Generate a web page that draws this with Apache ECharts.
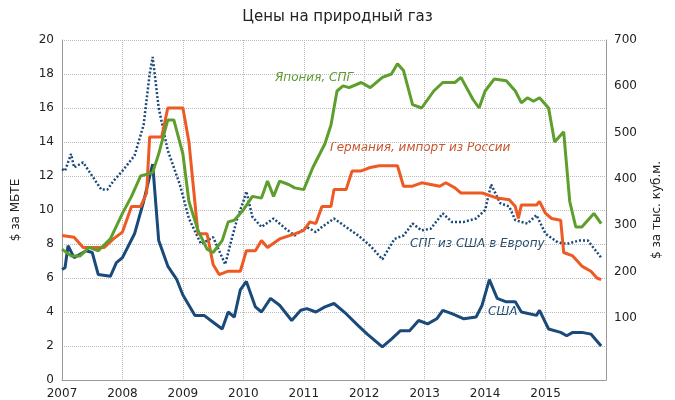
<!DOCTYPE html>
<html>
<head>
<meta charset="utf-8">
<script src="https://cdn.jsdelivr.net/npm/echarts@6/dist/echarts.min.js"></script>
<style>html,body{margin:0;padding:0;background:#fff}#chart{width:675px;height:400px}</style>
</head>
<body>
<div id="chart"></div>
<script>
// $ per MMBtu, x = decimal year
var usX = [2007.0,2007.05,2007.1,2007.2,2007.4,2007.5,2007.6,2007.8,2007.9,2008.0,2008.2,2008.35,2008.5,2008.6,2008.75,2008.9,2009.0,2009.2,2009.35,2009.5,2009.65,2009.75,2009.85,2009.95,2010.05,2010.2,2010.3,2010.45,2010.6,2010.8,2010.95,2011.05,2011.2,2011.35,2011.5,2011.7,2011.9,2012.05,2012.3,2012.45,2012.6,2012.75,2012.9,2013.05,2013.2,2013.3,2013.45,2013.65,2013.85,2013.95,2014.07,2014.2,2014.35,2014.5,2014.6,2014.85,2014.9,2015.05,2015.25,2015.35,2015.45,2015.6,2015.75,2015.92];
var usY = [6.5,6.6,7.9,7.2,7.6,7.5,6.2,6.1,6.9,7.2,8.6,10.5,12.7,8.2,6.7,5.9,5.0,3.8,3.8,3.4,3.0,4.0,3.7,5.3,5.8,4.3,4.0,4.8,4.4,3.5,4.1,4.2,4.0,4.3,4.5,3.9,3.2,2.7,1.95,2.4,2.9,2.9,3.5,3.3,3.6,4.1,3.9,3.6,3.7,4.4,5.9,4.8,4.6,4.6,4.0,3.8,4.1,3.0,2.8,2.6,2.8,2.8,2.7,2.0];

var jpX = [2007.0,2007.15,2007.3,2007.45,2007.6,2007.8,2008.0,2008.15,2008.3,2008.5,2008.6,2008.75,2008.85,2009.0,2009.1,2009.25,2009.4,2009.5,2009.65,2009.75,2009.85,2010.0,2010.15,2010.3,2010.4,2010.5,2010.6,2010.75,2010.85,2011.0,2011.15,2011.35,2011.45,2011.55,2011.65,2011.75,2011.95,2012.1,2012.3,2012.45,2012.55,2012.65,2012.8,2012.95,2013.15,2013.3,2013.5,2013.6,2013.8,2013.9,2014.0,2014.15,2014.35,2014.5,2014.6,2014.7,2014.8,2014.9,2015.05,2015.15,2015.3,2015.4,2015.5,2015.6,2015.8,2015.92];
var jpY = [7.7,7.3,7.3,7.8,7.6,8.3,9.8,10.8,12.0,12.2,13.3,15.3,15.3,13.3,10.5,8.8,7.7,7.5,8.2,9.3,9.4,10.0,10.8,10.7,11.7,10.8,11.7,11.5,11.3,11.2,12.5,13.9,15.0,17.0,17.3,17.2,17.5,17.2,17.8,18.0,18.6,18.2,16.2,16.0,17.0,17.5,17.5,17.8,16.5,16.0,17.0,17.7,17.6,17.0,16.3,16.6,16.4,16.6,16.0,14.0,14.6,10.5,9.0,9.0,9.8,9.2];

var deX = [2007.0,2007.2,2007.35,2007.7,2007.85,2008.0,2008.15,2008.3,2008.4,2008.45,2008.65,2008.75,2009.0,2009.1,2009.25,2009.4,2009.5,2009.6,2009.75,2009.95,2010.05,2010.2,2010.3,2010.4,2010.6,2010.85,2011.0,2011.1,2011.2,2011.3,2011.45,2011.5,2011.7,2011.8,2011.95,2012.1,2012.25,2012.55,2012.65,2012.8,2012.95,2013.1,2013.25,2013.35,2013.5,2013.6,2013.95,2014.2,2014.4,2014.5,2014.55,2014.6,2014.85,2014.9,2015.0,2015.1,2015.25,2015.3,2015.45,2015.6,2015.75,2015.85,2015.92];
var deY = [8.5,8.4,7.8,7.8,8.3,8.7,10.2,10.2,11.0,14.3,14.3,16.0,16.0,14.0,8.6,8.6,6.8,6.2,6.4,6.4,7.6,7.6,8.2,7.8,8.3,8.6,8.8,9.3,9.2,10.2,10.2,11.2,11.2,12.3,12.3,12.5,12.6,12.6,11.4,11.4,11.6,11.5,11.4,11.6,11.3,11.0,11.0,10.7,10.6,10.2,9.5,10.3,10.3,10.5,9.8,9.5,9.4,7.5,7.3,6.7,6.4,6.0,5.9];

var lngX = [2007.0,2007.05,2007.15,2007.2,2007.35,2007.5,2007.65,2007.75,2007.85,2008.0,2008.2,2008.35,2008.45,2008.5,2008.6,2008.75,2008.95,2009.1,2009.3,2009.5,2009.6,2009.7,2009.8,2009.9,2010.0,2010.05,2010.15,2010.3,2010.5,2010.7,2010.85,2011.05,2011.2,2011.3,2011.5,2011.7,2011.9,2012.1,2012.3,2012.5,2012.65,2012.8,2012.95,2013.1,2013.3,2013.45,2013.65,2013.85,2014.0,2014.1,2014.25,2014.4,2014.5,2014.7,2014.85,2015.0,2015.2,2015.35,2015.55,2015.7,2015.92];
var lngY = [12.4,12.3,13.3,12.5,12.8,12.0,11.2,11.2,11.7,12.3,13.2,15.0,18.0,19.0,16.0,13.5,11.5,9.5,8.0,8.4,7.6,6.8,8.2,9.5,10.5,11.1,9.6,9.0,9.5,8.9,8.5,9.0,8.7,9.0,9.5,9.0,8.5,7.9,7.1,8.3,8.5,9.2,8.8,8.9,9.8,9.3,9.3,9.5,10.0,11.5,10.4,10.2,9.4,9.2,9.7,8.6,8.1,8.0,8.2,8.2,7.2];

var yearTicks = [2007, 2008, 2009, 2010, 2011, 2012, 2013, 2014, 2015];
var rightTicks = [100, 200, 300, 400, 500, 600, 700];

function pairs(xs, ys) {
	return xs.map(function (x, i) { return [x, ys[i]]; });
}

var font = 'DejaVu Sans';
var myChart = echarts.init(document.getElementById('chart'));
myChart.setOption({
	animation: false,
	textStyle: { fontFamily: font },
	title: {
		text: 'Цены на природный газ',
		left: 'center',
		top: 5,
		textStyle: { fontSize: 15, fontWeight: 'normal', color: '#222' }
	},
	grid: { left: 62, right: 69, top: 40, bottom: 20 },
	xAxis: {
		type: 'value',
		min: 2007,
		max: 2016,
		interval: 1,
		axisLine: { lineStyle: { color: '#999' } },
		axisTick: { show: false },
		axisLabel: {
			color: '#222', fontSize: 12,
			customValues: yearTicks,
			formatter: function (v) { return String(v); }
		},
		splitLine: { show: true, lineStyle: { type: 'dotted', color: '#bbb' } }
	},
	yAxis: [{
		type: 'value',
		min: 0,
		max: 20,
		interval: 2,
		name: '$ за MБТЕ',
		nameLocation: 'middle',
		nameRotate: 90,
		nameGap: 40,
		nameTextStyle: { fontSize: 12, color: '#222' },
		axisLine: { show: true, lineStyle: { color: '#999' } },
		axisTick: { show: false },
		axisLabel: { color: '#222', fontSize: 12 },
		splitLine: { lineStyle: { type: 'dotted', color: '#bbb' } }
	}, {
		type: 'value',
		min: -34,
		max: 700,
		position: 'right',
		name: '$ за тыс. куб.м.',
		nameLocation: 'middle',
		nameRotate: 90,
		nameGap: 45,
		nameTextStyle: { fontSize: 12, color: '#222' },
		axisLine: { show: true, lineStyle: { color: '#999' } },
		axisTick: { show: false },
		axisLabel: { color: '#222', fontSize: 12, customValues: rightTicks },
		splitLine: { show: false }
	}],
	graphic: [
		{ type: 'text', left: 275, top: 72, style: { text: 'Япония, СПГ', fill: '#5a9a2a', font: 'italic 12px DejaVu Sans' } },
		{ type: 'text', left: 330, top: 142, style: { text: 'Германия, импорт из России', fill: '#c8552e', font: 'italic 12px DejaVu Sans' } },
		{ type: 'text', left: 410, top: 238, style: { text: 'СПГ из США в Европу', fill: '#2a4e6c', font: 'italic 12px DejaVu Sans' } },
		{ type: 'text', left: 488, top: 306, style: { text: 'США', fill: '#1f4e79', font: 'italic 12px DejaVu Sans' } }
	],
	series: [{
		name: 'США',
		type: 'line',
		symbol: 'none',
		data: pairs(usX, usY),
		lineStyle: { color: '#1a4a7a', width: 3 }
	}, {
		name: 'СПГ из США в Европу',
		type: 'line',
		symbol: 'none',
		data: pairs(lngX, lngY),
		lineStyle: { color: '#1a4a7a', width: 2.5, type: [2, 2] }
	}, {
		name: 'Германия, импорт из России',
		type: 'line',
		symbol: 'none',
		data: pairs(deX, deY),
		lineStyle: { color: '#ee5a24', width: 3 }
	}, {
		name: 'Япония, СПГ',
		type: 'line',
		symbol: 'none',
		data: pairs(jpX, jpY),
		lineStyle: { color: '#5e9e2c', width: 3 }
	}]
});
</script>
</body>
</html>
